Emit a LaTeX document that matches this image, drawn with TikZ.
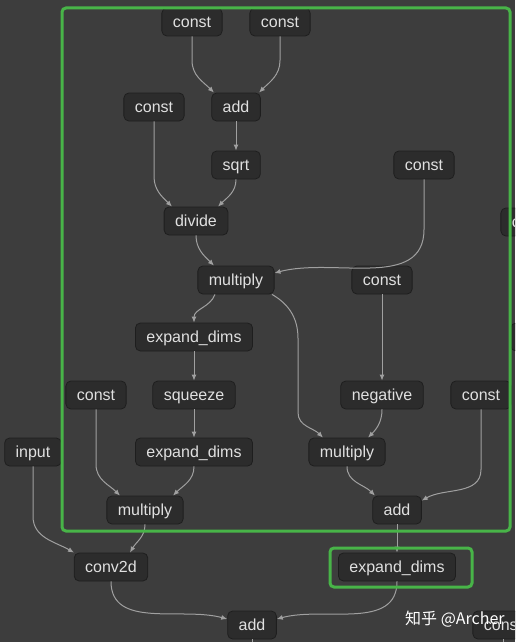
\documentclass[tikz,border=0pt]{standalone}
\usepackage{fontspec}
\setmainfont{Liberation Sans}
\newfontfamily\cjkfont{Noto Sans CJK SC}
\usetikzlibrary{arrows.meta}
\definecolor{bgGray}{RGB}{61,61,61}
\definecolor{opFill}{RGB}{44,44,44}
\definecolor{opLine}{RGB}{30,30,30}
\definecolor{edgeGray}{RGB}{160,160,160}
\definecolor{txtGray}{RGB}{224,224,224}
\definecolor{grpGreen}{RGB}{72,180,72}
\begin{document}
\begin{tikzpicture}[x=1pt,y=1pt,
  op/.style={draw=opLine,fill=opFill,rounded corners=5pt,line width=0.8pt,text=txtGray,
    inner xsep=11pt,inner ysep=0pt,minimum height=28pt,text height=13pt,text depth=2pt,
    font=\fontsize{16}{18}\selectfont},
  flow/.style={draw=edgeGray,line width=1pt,-{Latex[length=6pt,width=5pt]}},
  grp/.style={draw=grpGreen,line width=3pt,rounded corners=4pt}]
\useasboundingbox(0,0)rectangle(515,-642);
\fill[bgGray](0,0)rectangle(515,-642);
\clip(0,0)rectangle(515,-642);
%ops
\node[op](c1)at(192,-22){const};
\node[op](c2)at(280,-22){const};
\node[op](c3)at(154,-107){const};
\node[op](add1)at(236,-107){add};
\node[op](sqrt)at(236,-165){sqrt};
\node[op](c4)at(424,-165){const};
\node[op](divide)at(196,-221){divide};
\node[op](mul1)at(236,-280){multiply};
\node[op](c5)at(382,-280){const};
\node[op](exp1)at(194,-337){expand\_dims};
\node[op](c6)at(96,-395){const};
\node[op](sq)at(194,-395){squeeze};
\node[op](neg)at(382,-395){negative};
\node[op](c7)at(481,-395){const};
\node[op](input)at(33,-452){input};
\node[op](exp2)at(194,-452){expand\_dims};
\node[op](mul2)at(347,-452){multiply};
\node[op](mul3)at(145,-510){multiply};
\node[op](add2)at(397,-510){add};
\node[op](conv)at(111,-567){conv2d};
\node[op](exp3)at(397,-567){expand\_dims};
\node[op](add3)at(252,-625){add};
\node[op](cr1)at(531,-222){const};
\node[op](cr2)at(541,-337){const};
\node[op](cr3)at(503,-625){const};
%edges
\draw[flow](c1.south)--++(0,-24)to[out=-90,in=135]([xshift=-22pt]add1.north);
\draw[flow](c2.south)--++(0,-24)to[out=-90,in=45]([xshift=23pt]add1.north);
\draw[flow](add1)--(sqrt);
\draw[flow](c3.south)--++(0,-55)to[out=-90,in=135]([xshift=-24pt]divide.north);
\draw[flow](sqrt.south)to[out=-90,in=45]([xshift=22pt]divide.north);
\draw[flow](divide.south)to[out=-90,in=135]([xshift=-22pt]mul1.north);
\draw[flow](c4.south)--++(0,-50)to[out=-90,in=15]([yshift=7pt]mul1.east);
\draw[flow]([xshift=-21pt]mul1.south)to[out=-110,in=90](exp1.north);
\draw[flow]([xshift=36pt]mul1.south)to[out=-30,in=90]++(26,-44)--++(0,-74)
  to[out=-90,in=135]([xshift=-24pt]mul2.north);
\draw[flow](c5)--(neg);
\draw[flow](neg.south)to[out=-90,in=45]([xshift=21pt]mul2.north);
\draw[flow](exp1)--(sq);
\draw[flow](sq)--(exp2);
\draw[flow](c6.south)--++(0,-55)to[out=-90,in=135]([xshift=-25pt]mul3.north);
\draw[flow](exp2.south)to[out=-90,in=45]([xshift=28pt]mul3.north);
\draw[flow](mul2.south)to[out=-90,in=135]([xshift=-22pt]add2.north);
\draw[flow](c7.south)--++(0,-60)to[out=-90,in=30]([yshift=-5pt]add2.north east);
\draw[flow](add2)--(exp3);
\draw[flow](input.south)--++(0,-50)to[out=-90,in=150]([xshift=-37pt]conv.north);
\draw[flow](mul3.south)to[out=-90,in=60]([xshift=19pt]conv.north);
\draw[flow](conv.south)to[out=-90,in=165]([yshift=6pt]add3.west);
\draw[flow](exp3.south)to[out=-90,in=15]([yshift=6pt]add3.east);
\draw[edgeGray,line width=1pt](add3.south)--++(0,-10);
\draw[edgeGray,line width=1pt](cr3.south)--++(0,-10);
%groups
\draw[grp](62,-8)rectangle(510,-531);
\draw[grp](330,-548)rectangle(472,-587);
\node[anchor=west,inner sep=0pt,text=white,font=\cjkfont\fontsize{16}{18}\selectfont](mark)at(405,-619){知乎 @Archer};
\end{tikzpicture}
\end{document}
